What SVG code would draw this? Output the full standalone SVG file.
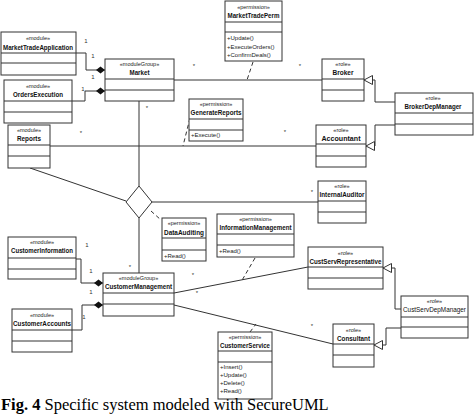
<svg xmlns="http://www.w3.org/2000/svg" width="474" height="418" viewBox="0 0 474 418">
<style>
.box{fill:#fff;stroke:#333;stroke-width:1}
.sep{stroke:#333;stroke-width:1}
.st{font-family:"Liberation Sans",Arial,sans-serif;font-size:5.5px;fill:#222;text-anchor:middle}
.nm{font-family:"Liberation Sans",Arial,sans-serif;font-size:7px;font-weight:bold;fill:#111;text-anchor:middle}
.nn{font-family:"Liberation Sans",Arial,sans-serif;font-size:7px;fill:#111;text-anchor:middle}
.m{font-family:"Liberation Sans",Arial,sans-serif;font-size:6px;fill:#222}
.lb{font-family:"Liberation Sans",Arial,sans-serif;font-size:6px;fill:#333;text-anchor:middle}
.c{fill:none;stroke:#333;stroke-width:1}
.d{fill:none;stroke:#333;stroke-width:1;stroke-dasharray:4,3}
.comp{marker-end:url(#dia)}
.gen{marker-end:url(#tri)}
.cap{font-family:"Liberation Serif","Times New Roman",serif;font-size:16.5px;fill:#000}
</style>
<defs>
<marker id="dia" markerUnits="userSpaceOnUse" markerWidth="10" markerHeight="8" refX="9" refY="4" orient="auto">
<path d="M0,4 L4.5,0.5 L9,4 L4.5,7.5 Z" fill="#111"/>
</marker>
<marker id="tri" markerUnits="userSpaceOnUse" markerWidth="10" markerHeight="11" refX="9" refY="5" orient="auto">
<path d="M0.5,0.5 L9,5 L0.5,9.5 Z" fill="#fff" stroke="#333" stroke-width="1"/>
</marker>
</defs>

<g id="connectors">
<path class="c comp" d="M76,53 L86,53 L86,70 L105,70"/>
<path class="c comp" d="M72,101 L85,101 L85,91 L105,91"/>
<path class="c comp" d="M76,259 L81,259 L81,283 L103,283"/>
<path class="c comp" d="M72,330 L82,330 L82,305 L103,305"/>
<path class="c" d="M174,80 L322,80"/>
<path class="c" d="M50,146 L316,146"/>
<path class="c" d="M139,101 L139,186"/>
<path class="c" d="M139,218 L139,273"/>
<path class="c" d="M152,202 L318,202"/>
<path class="c" d="M30,168 L126,201"/>
<path class="c" d="M174,293 L308,267"/>
<path class="c" d="M174,305 L333,344"/>
<path class="d" d="M151,211 L161,220"/>
<path class="d" d="M253,62 L247,80"/>
<path class="d" d="M190,118 L183,146"/>
<path class="d" d="M255,258 L241,282"/>
<path class="d" d="M250,332 L256,324"/>
<path class="c gen" d="M395,102 L375,102 L375,80 L364,80"/>
<path class="c gen" d="M395,125 L375,125 L375,146 L366,146"/>
<path class="c gen" d="M401,309 L395,309 L395,268 L383,268"/>
<path class="c gen" d="M401,328 L386,328 L386,345 L374,345"/>
<polygon id="assocDiamond" points="139,186 152,202 139,218 126,202" class="box"/>
<text class="lb" x="86" y="43">1</text>
<text class="lb" x="93" y="58">1</text>
<text class="lb" x="93" y="79">1</text>
<text class="lb" x="83" y="91">1</text>
<text class="lb" x="87" y="247">1</text>
<text class="lb" x="91" y="273">1</text>
<text class="lb" x="91" y="294">1</text>
<text class="lb" x="84" y="319">1</text>
<text class="lb" x="194" y="68">*</text>
<text class="lb" x="300" y="68">*</text>
<text class="lb" x="147" y="110">*</text>
<text class="lb" x="81" y="135">*</text>
<text class="lb" x="37" y="164">*</text>
<text class="lb" x="285" y="134">*</text>
<text class="lb" x="312" y="194">*</text>
<text class="lb" x="130" y="269">*</text>
<text class="lb" x="193" y="277">*</text>
<text class="lb" x="197" y="295">*</text>
<text class="lb" x="288" y="257">*</text>
<text class="lb" x="312" y="328">*</text>
</g>

<g id="MarketTradeApplication">
<rect class="box" x="1" y="32" width="75" height="43"/>
<line class="sep" x1="1" y1="53" x2="76" y2="53"/><line class="sep" x1="1" y1="63" x2="76" y2="63"/>
<text class="st" x="38" y="40">«module»</text>
<text class="nm" x="38" y="49.5" textLength="70" lengthAdjust="spacingAndGlyphs">MarketTradeApplication</text>
</g>
<g id="OrdersExecution">
<rect class="box" x="4" y="80" width="68" height="43"/>
<line class="sep" x1="4" y1="101" x2="72" y2="101"/><line class="sep" x1="4" y1="112" x2="72" y2="112"/>
<text class="st" x="38" y="88">«module»</text>
<text class="nm" x="38" y="97" textLength="50" lengthAdjust="spacingAndGlyphs">OrdersExecution</text>
</g>
<g id="Market">
<rect class="box" x="105" y="59" width="69" height="42"/>
<line class="sep" x1="105" y1="79" x2="174" y2="79"/><line class="sep" x1="105" y1="90" x2="174" y2="90"/>
<text class="st" x="139.5" y="66">«moduleGroup»</text>
<text class="nm" x="139.5" y="75" textLength="20" lengthAdjust="spacingAndGlyphs">Market</text>
</g>
<g id="MarketTradePerm">
<rect class="box" x="225" y="1" width="57" height="60"/>
<line class="sep" x1="225" y1="22" x2="282" y2="22"/><line class="sep" x1="225" y1="32" x2="282" y2="32"/>
<text class="st" x="253.5" y="9">«permission»</text>
<text class="nm" x="253.5" y="18" textLength="52" lengthAdjust="spacingAndGlyphs">MarketTradePerm</text>
<text class="m" x="227" y="40">+Update()</text>
<text class="m" x="227" y="48.5">+ExecuteOrders()</text>
<text class="m" x="227" y="57">+ConfirmDeals()</text>
</g>
<g id="Broker">
<rect class="box" x="322" y="59" width="42" height="42"/>
<line class="sep" x1="322" y1="79" x2="364" y2="79"/><line class="sep" x1="322" y1="90" x2="364" y2="90"/>
<text class="st" x="343" y="66">«role»</text>
<text class="nm" x="343" y="75" textLength="21" lengthAdjust="spacingAndGlyphs">Broker</text>
</g>
<g id="BrokerDepManager">
<rect class="box" x="395" y="93" width="78" height="42"/>
<line class="sep" x1="395" y1="113" x2="473" y2="113"/><line class="sep" x1="395" y1="124" x2="473" y2="124"/>
<text class="st" x="433" y="100">«role»</text>
<text class="nm" x="433" y="109" textLength="57" lengthAdjust="spacingAndGlyphs">BrokerDepManager</text>
</g>
<g id="GenerateReports">
<rect class="box" x="189" y="99" width="54" height="42"/>
<line class="sep" x1="189" y1="119" x2="243" y2="119"/><line class="sep" x1="189" y1="130" x2="243" y2="130"/>
<text class="st" x="216" y="106">«permission»</text>
<text class="nm" x="216" y="115" textLength="51" lengthAdjust="spacingAndGlyphs">GenerateReports</text>
<text class="m" x="191" y="137">+Execute()</text>
</g>
<g id="Reports">
<rect class="box" x="8" y="125" width="42" height="43"/>
<line class="sep" x1="8" y1="145" x2="50" y2="145"/><line class="sep" x1="8" y1="156" x2="50" y2="156"/>
<text class="st" x="29" y="132">«module»</text>
<text class="nm" x="29" y="141" textLength="24" lengthAdjust="spacingAndGlyphs">Reports</text>
</g>
<g id="Accountant">
<rect class="box" x="316" y="125" width="50" height="42"/>
<line class="sep" x1="316" y1="144" x2="366" y2="144"/><line class="sep" x1="316" y1="156" x2="366" y2="156"/>
<text class="st" x="341" y="132">«role»</text>
<text class="nm" x="341" y="141" textLength="39" lengthAdjust="spacingAndGlyphs">Accountant</text>
</g>
<g id="InternalAuditor">
<rect class="box" x="318" y="181" width="48" height="42"/>
<line class="sep" x1="318" y1="201" x2="366" y2="201"/><line class="sep" x1="318" y1="212" x2="366" y2="212"/>
<text class="st" x="342" y="188">«role»</text>
<text class="nm" x="342" y="197" textLength="45" lengthAdjust="spacingAndGlyphs">InternalAuditor</text>
</g>
<g id="DataAuditing">
<rect class="box" x="162" y="218" width="44" height="43"/>
<line class="sep" x1="162" y1="238" x2="206" y2="238"/><line class="sep" x1="162" y1="250" x2="206" y2="250"/>
<text class="st" x="184" y="225">«permission»</text>
<text class="nm" x="184" y="235" textLength="40" lengthAdjust="spacingAndGlyphs">DataAuditing</text>
<text class="m" x="164" y="258">+Read()</text>
</g>
<g id="InformationManagement">
<rect class="box" x="217" y="214" width="77" height="43"/>
<line class="sep" x1="217" y1="234" x2="294" y2="234"/><line class="sep" x1="217" y1="245" x2="294" y2="245"/>
<text class="st" x="255.5" y="221">«permission»</text>
<text class="nm" x="255.5" y="230" textLength="72" lengthAdjust="spacingAndGlyphs">InformationManagement</text>
<text class="m" x="219" y="253">+Read()</text>
</g>
<g id="CustomerInformation">
<rect class="box" x="8" y="237" width="68" height="42"/>
<line class="sep" x1="8" y1="258" x2="76" y2="258"/><line class="sep" x1="8" y1="269" x2="76" y2="269"/>
<text class="st" x="42" y="244">«module»</text>
<text class="nm" x="42" y="253" textLength="62" lengthAdjust="spacingAndGlyphs">CustomerInformation</text>
</g>
<g id="CustomerManagement">
<rect class="box" x="103" y="273" width="71" height="43"/>
<line class="sep" x1="103" y1="293" x2="174" y2="293"/><line class="sep" x1="103" y1="304" x2="174" y2="304"/>
<text class="st" x="138.5" y="280">«moduleGroup»</text>
<text class="nm" x="138.5" y="289" textLength="67" lengthAdjust="spacingAndGlyphs">CustomerManagement</text>
</g>
<g id="CustomerAccounts">
<rect class="box" x="12" y="309" width="60" height="43"/>
<line class="sep" x1="12" y1="330" x2="72" y2="330"/><line class="sep" x1="12" y1="341" x2="72" y2="341"/>
<text class="st" x="42" y="317">«module»</text>
<text class="nm" x="42" y="326" textLength="58" lengthAdjust="spacingAndGlyphs">CustomerAccounts</text>
</g>
<g id="CustServRepresentative">
<rect class="box" x="308" y="247" width="75" height="42"/>
<line class="sep" x1="308" y1="267" x2="383" y2="267"/><line class="sep" x1="308" y1="278" x2="383" y2="278"/>
<text class="st" x="345.5" y="255">«role»</text>
<text class="nm" x="345.5" y="264" textLength="72" lengthAdjust="spacingAndGlyphs">CustServRepresentative</text>
</g>
<g id="CustServDepManager">
<rect class="box" x="401" y="296" width="67" height="42"/>
<line class="sep" x1="401" y1="317" x2="468" y2="317"/><line class="sep" x1="401" y1="327" x2="468" y2="327"/>
<text class="st" x="434.5" y="303">«role»</text>
<text class="nn" x="434.5" y="312" textLength="63" lengthAdjust="spacingAndGlyphs">CustServDepManager</text>
</g>
<g id="Consultant">
<rect class="box" x="333" y="324" width="41" height="43"/>
<line class="sep" x1="333" y1="344" x2="374" y2="344"/><line class="sep" x1="333" y1="355" x2="374" y2="355"/>
<text class="st" x="353.5" y="332">«role»</text>
<text class="nm" x="353.5" y="341" textLength="33" lengthAdjust="spacingAndGlyphs">Consultant</text>
</g>
<g id="CustomerService">
<rect class="box" x="218" y="332" width="54" height="67"/>
<line class="sep" x1="218" y1="351" x2="272" y2="351"/><line class="sep" x1="218" y1="362" x2="272" y2="362"/>
<text class="st" x="245" y="339">«permission»</text>
<text class="nm" x="245" y="348" textLength="50" lengthAdjust="spacingAndGlyphs">CustomerService</text>
<text class="m" x="220" y="369">+Insert()</text>
<text class="m" x="220" y="377">+Update()</text>
<text class="m" x="220" y="385">+Delete()</text>
<text class="m" x="220" y="393">+Read()</text>
</g>

<text class="cap" x="1" y="410"><tspan font-weight="bold">Fig. 4</tspan> Specific system modeled with SecureUML</text>
</svg>
